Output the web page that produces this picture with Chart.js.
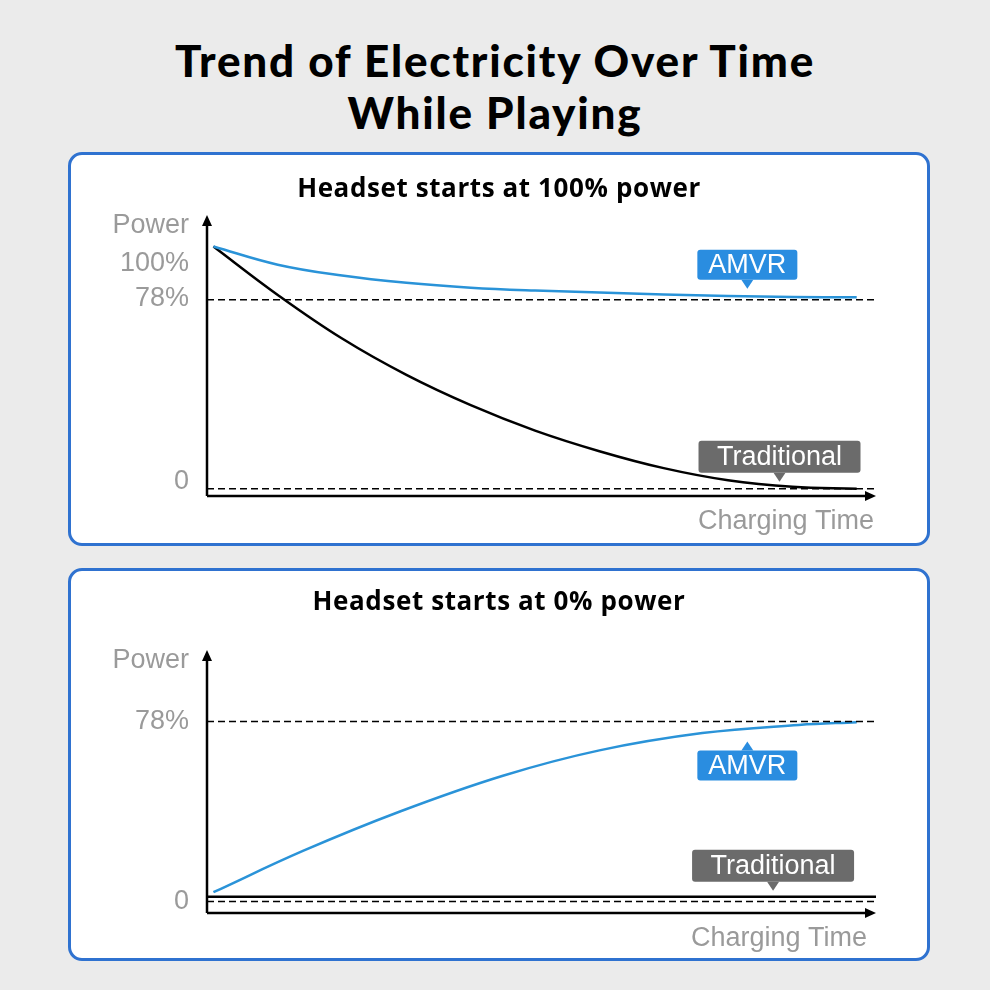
<!DOCTYPE html>
<html><head><meta charset="utf-8">
<script src="https://cdn.jsdelivr.net/npm/chart.js@4"></script>
<style>
body{margin:0;width:990px;height:990px;background:#ebebeb;position:relative;overflow:hidden;font-family:"Liberation Sans",Arial,sans-serif}
#title{position:absolute;top:34px;left:0;width:990px;text-align:center;font:900 44px/52px Lato,sans-serif;color:#000;letter-spacing:1.8px}
.panel{position:absolute;left:68px;width:862px;background:#fff;border:3px solid #2f72d0;border-radius:14px;box-sizing:border-box}
.panel h2{position:absolute;top:0;left:0;width:100%;text-align:center;margin:0;font:700 26px "Open Sans",sans-serif;color:#000;z-index:2;letter-spacing:0.6px}
.panel canvas{position:absolute;left:-3px;top:-3px}
</style></head><body>
<div id="title">Trend of Electricity Over Time<br>While Playing</div>
<div class="panel" id="p1" style="top:152px;height:394px"><h2 style="top:14px">Headset starts at 100% power</h2><canvas id="c1"></canvas></div>
<div class="panel" id="p2" style="top:568px;height:393px"><h2 style="top:11px">Headset starts at 0% power</h2><canvas id="c2"></canvas></div>
<script>
// Panel 1 data
const xs1 = [0,10,20,30,40,50,60,70,80,90,100];
const amvr1 = [100,92.5,88,85,83,81.8,81,80.2,79.6,79.2,79];
const trad1 = [100,80,62,47,34.5,24,15.5,8.5,3.5,0.8,0];
// Panel 2 data
const xs2 = [0,14,29,45,60,76,91,100];
const amvr2 = [4,22,39,54.5,65.5,73,76.5,77.7];
const trad2 = [2,2,2,2,2,2,2,2];
// tick label [position value, text]
const ticks1 = [[93,"100%"],[78.5,"78%"],[3,"0"]];
const ticks2 = [[78,"78%"],[0,"0"]];

function pts(xs,ys){return xs.map((x,i)=>({x:x,y:ys[i]}));}
function callout(ctx,cx,top,w,h,text,color,ptr){
  ctx.save();ctx.fillStyle=color;
  ctx.beginPath();ctx.roundRect(cx-w/2,top,w,h,3);ctx.fill();
  ctx.beginPath();
  if(ptr==='down'){ctx.moveTo(cx-6,top+h);ctx.lineTo(cx+6,top+h);ctx.lineTo(cx,top+h+9);}
  else{ctx.moveTo(cx-6,top);ctx.lineTo(cx+6,top);ctx.lineTo(cx,top-9);}
  ctx.fill();
  ctx.fillStyle='#fff';ctx.font='27px "Liberation Sans",Arial';ctx.textAlign='center';ctx.textBaseline='middle';
  ctx.fillText(text,cx,top+h/2+1);ctx.restore();
}
function makeChart(id,w,h,pad,ymin,ymax,ds,ticks,ctRight,extra){
  const cv=document.getElementById(id);cv.width=w;cv.height=h;
  return new Chart(cv,{type:'line',data:{datasets:ds},
    options:{responsive:false,animation:false,layout:{padding:pad},
      plugins:{legend:{display:false},tooltip:{enabled:false}},
      elements:{point:{radius:0}},
      scales:{x:{type:'linear',min:-1,max:103,display:false},y:{min:ymin,max:ymax,display:false}}},
    plugins:[{id:'deco',afterDatasetsDraw(c){
      const ctx=c.ctx,a=c.chartArea,xs=c.scales.x,ys=c.scales.y;
      ctx.save();ctx.strokeStyle='#000';ctx.fillStyle='#000';ctx.lineWidth=2.5;
      ctx.beginPath();ctx.moveTo(a.left,a.bottom);ctx.lineTo(a.left,a.top+6);ctx.moveTo(a.left,a.bottom);ctx.lineTo(a.right-6,a.bottom);ctx.stroke();
      ctx.beginPath();ctx.moveTo(a.left,a.top);ctx.lineTo(a.left-5,a.top+11);ctx.lineTo(a.left+5,a.top+11);ctx.fill();
      ctx.beginPath();ctx.moveTo(a.right,a.bottom);ctx.lineTo(a.right-11,a.bottom-5);ctx.lineTo(a.right-11,a.bottom+5);ctx.fill();
      ctx.fillStyle='#9a9a9a';ctx.font='27px "Liberation Sans",Arial';ctx.textAlign='right';ctx.textBaseline='middle';
      ticks.forEach(t=>ctx.fillText(t[1],a.left-18,ys.getPixelForValue(t[0])));
      ctx.fillText('Power',a.left-18,a.top+11);
      ctx.textBaseline='top';ctx.fillText('Charging Time',a.right-ctRight,a.bottom+12);
      ctx.restore();
      extra(ctx,xs,ys);
    }}]});
}
const dash={borderColor:'#000',borderWidth:1.6,borderDash:[7,4],fill:false};
makeChart('c1',862,394,{left:139,right:54,top:63,bottom:50},-3,113,[
  {data:pts([-1,103],[78,78]),...dash},
  {data:pts([-1,103],[0,0]),...dash},
  {data:pts(xs1,amvr1),borderColor:'#2a93d8',borderWidth:2.5,tension:0.4},
  {data:pts(xs1,trad1),borderColor:'#000',borderWidth:2.5,tension:0.4}
],ticks1,2,(ctx,xs,ys)=>{
  callout(ctx,xs.getPixelForValue(83),ys.getPixelForValue(78)-50,100,30,'AMVR','#2a8de0','down');
  callout(ctx,xs.getPixelForValue(88),ys.getPixelForValue(0)-48,162,32,'Traditional','#6b6b6b','down');
});
makeChart('c2',862,393,{left:139,right:54,top:82,bottom:48},-5,109,[
  {data:pts([-1,103],[78,78]),...dash},
  {data:pts([-1,103],[0,0]),...dash},
  {data:pts(xs2,amvr2),borderColor:'#2a93d8',borderWidth:2.5,tension:0.4},
  {data:pts([-1,103],trad2.slice(0,2)),borderColor:'#000',borderWidth:2.5}
],ticks2,9,(ctx,xs,ys)=>{
  callout(ctx,xs.getPixelForValue(83),ys.getPixelForValue(78)+29,100,30,'AMVR','#2a8de0','up');
  callout(ctx,xs.getPixelForValue(87),ys.getPixelForValue(2)-47,162,32,'Traditional','#6b6b6b','down');
});
</script></body></html>
